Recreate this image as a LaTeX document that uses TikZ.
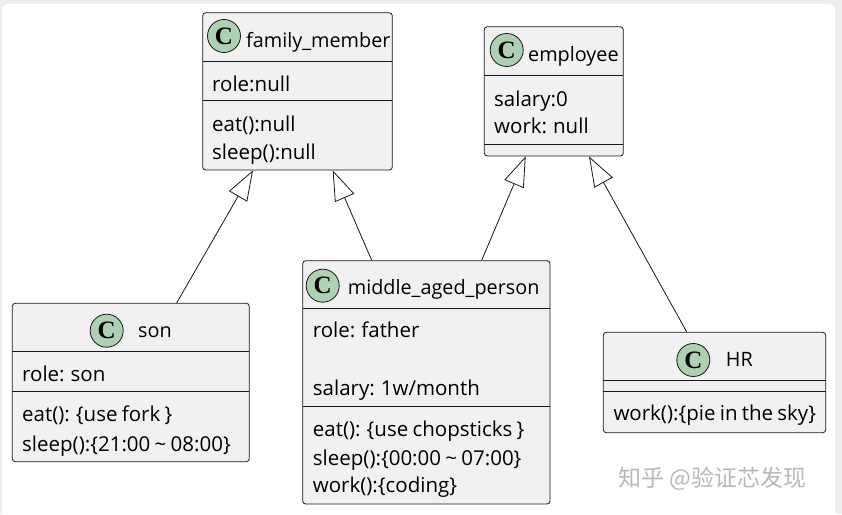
\documentclass[tikz,border=0pt]{standalone}
\usepackage{fontspec}
\setmainfont{Open Sans}[WordSpace=0.8]
\newfontfamily\spotfont{Liberation Serif}
\newfontfamily\cjk{Noto Sans CJK SC}
\definecolor{umlFill}{HTML}{F1F1F1}
\definecolor{umlLine}{HTML}{181818}
\definecolor{umlSpot}{HTML}{ADD1B2}
\definecolor{pageGray}{HTML}{EEEEEE}
\usetikzlibrary{arrows.meta}

\begin{document}
\begin{tikzpicture}[x=1pt, y=-1pt,
  cls/.style={draw=umlLine, fill=umlFill, rounded corners=3pt, inner sep=0pt, line width=0.8pt},
  spot/.style={circle, draw=umlLine, fill=umlSpot, minimum size=33pt, inner sep=0pt,
    line width=0.8pt, font=\spotfont\bfseries\fontsize{25}{25}\selectfont},
  ttl/.style={anchor=base west, inner sep=0pt, font=\fontsize{19.8}{23}\selectfont},
  mbr/.style={anchor=base west, inner sep=0pt, font=\fontsize{20.5}{23}\selectfont},
  div/.style={draw=umlLine, line width=0.8pt},
  inh/.style={draw=umlLine, line width=0.8pt, -{Triangle[open, length=30pt, width=21pt]}}
]
  \useasboundingbox (0,0) rectangle (842,514);
  % Page
  \fill[pageGray] (0,0) rectangle (842,514);
  \fill[white, rounded corners=6pt] (2,4) rectangle (835,530);
  % Class boxes
  \node[cls, minimum width=189.6pt, minimum height=157.3pt] (fm)  at (297.5, 91.35) {};
  \node[cls, minimum width=139pt,   minimum height=129.3pt] (emp) at (553.8, 91.35) {};
  \node[cls, minimum width=237pt,   minimum height=158.4pt] (son) at (130.8, 382.5) {};
  \node[cls, minimum width=247.3pt, minimum height=243.3pt] (mid) at (426.35,382.35) {};
  \node[cls, minimum width=222.4pt, minimum height=100.4pt] (hr)  at (714.5, 382.5) {};
  % family_member
  \node[spot] (fmC) at (224,36) {C};
  \node[ttl] at (246,47) {family\_member};
  \draw[div] (202.7,61) -- (392.3,61);
  \node[mbr] at (212,91.7) {role:null};
  \draw[div] (202.7,100.7) -- (392.3,100.7);
  \node[mbr] at (212,131.7) {eat():null};
  \node[mbr] at (212,159.5) {sleep():null};
  % employee
  \node[spot] (empC) at (506.7,50) {C};
  \node[ttl] at (528,61.7) {employee};
  \draw[div] (484.3,75) -- (623.3,75);
  \node[mbr] at (494,106) {salary:0};
  \node[mbr] at (494,133.3) {work: null};
  \draw[div] (484.3,144.3) -- (623.3,144.3);
  % son
  \node[spot] (sonC) at (106.7,330.7) {C};
  \node[ttl] at (138,337.3) {son};
  \draw[div] (12.3,351) -- (249.3,351);
  \node[mbr] at (22,381.7) {role: son};
  \draw[div] (12.3,391.7) -- (249.3,391.7);
  \node[mbr] at (22,421.7) {eat(): \{use fork \}};
  \node[mbr] at (22,451.7) {sleep():\{21:00 \char`\~{} 08:00\}};
  % middle_aged_person
  \node[spot] (midC) at (322.7,285.7) {C};
  \node[ttl] at (347.7,294.3) {middle\_aged\_person};
  \draw[div] (302.7,308.3) -- (550,308.3);
  \node[mbr] at (312.7,337.3) {role: father};
  \node[mbr] at (312.7,395.7) {salary: 1w/month};
  \draw[div] (302.7,406) -- (550,406);
  \node[mbr] at (312.7,436.7) {eat(): \{use chopsticks \}};
  \node[mbr] at (312.7,465) {sleep():\{00:00 \char`\~{} 07:00\}};
  \node[mbr] at (312.7,492.7) {work():\{coding\}};
  % HR
  \node[spot] (hrC) at (693.3,360) {C};
  \node[ttl] at (725.7,366) {HR};
  \draw[div] (603.3,380.7) -- (825.7,380.7);
  \draw[div] (603.3,391.7) -- (825.7,391.7);
  \node[mbr] at (613.3,420) {work():\{pie in the sky\}};
  % Inheritance
  \draw[inh] ([xshift=45.9pt]son.north)  -- ([xshift=-44.5pt]fm.south);
  \draw[inh] ([xshift=-54.6pt]mid.north) -- ([xshift=35.2pt]fm.south);
  \draw[inh] ([xshift=55.3pt]mid.north)  -- ([xshift=-28.1pt]emp.south);
  \draw[inh] ([xshift=-27.8pt]hr.north)  -- ([xshift=35.2pt]emp.south);
  % Watermark
  \node[anchor=base west, inner sep=0pt, text=black!28, font=\cjk\fontsize{23}{23}\selectfont]
    (mark) at (618,486) {知乎 @验证芯发现};
\end{tikzpicture}
\end{document}
